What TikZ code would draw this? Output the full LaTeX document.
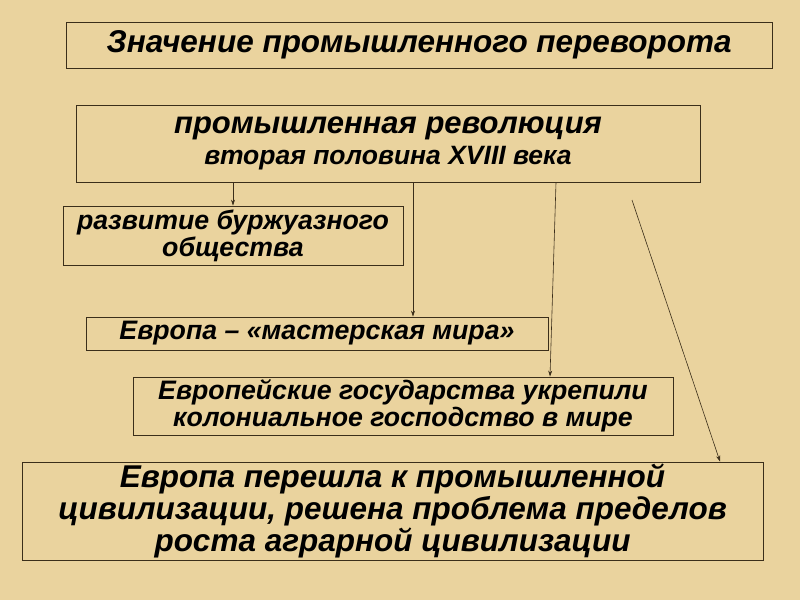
\documentclass[tikz,border=0pt]{standalone}
\usepackage{fontspec}
\setmainfont{Liberation Sans}
\usetikzlibrary{arrows.meta}
\definecolor{parchment}{HTML}{EAD39E}
\definecolor{boxline}{HTML}{3B2E1A}
\tikzset{plainbox/.style={draw=boxline,line width=0.9pt,rectangle,inner sep=0,align=center,font=\bfseries\itshape},
    thinarrow/.style={draw=boxline,line width=0.6pt,-{Stealth[length=6pt,width=4pt]}},
    bigtext/.style={font=\bfseries\itshape\fontsize{31.5}{32}\selectfont},
    midtext/.style={font=\bfseries\itshape\fontsize{26.7}{27}\selectfont}
}
\begin{document}
\begin{tikzpicture}[x=1pt,y=-1pt]

\fill [parchment] (0,0) rectangle (800,600);
\useasboundingbox (0,0) rectangle (800,600);

%% boxes
\node (title) at (419,45) [plainbox,bigtext,minimum width=706pt,minimum height=46pt] {Значение промышленного переворота};

\node (revol) at (388,143.5) [plainbox,minimum width=624pt,minimum height=77pt]
    {{\fontsize{31}{32}\selectfont промышленная революция}\\[5pt]
     {\fontsize{26.5}{30}\selectfont вторая половина XVIII века}};

\node (bourg) at (233,235.5) [plainbox,midtext,minimum width=340pt,minimum height=59pt] {развитие буржуазного\\общества};

\node (workshop) at (317,333.5) [plainbox,midtext,minimum width=462pt,minimum height=33pt] {Европа -- «мастерская мира»};

\node (colony) at (403,406) [plainbox,midtext,minimum width=540pt,minimum height=58pt] {Европейские государства укрепили\\колониальное господство в мире};

\node (civil) at (392.5,511) [plainbox,bigtext,minimum width=741pt,minimum height=98pt] {Европа перешла к промышленной\\цивилизации, решена проблема пределов\\роста аграрной цивилизации};

%% arrows
\coordinate (civstart) at (632,200);

\draw [thinarrow] (revol.south -| bourg.north) -- (bourg.north);
\draw [thinarrow] ([xshift=25pt]revol.south) -- ([xshift=96pt]workshop.north);
\draw [thinarrow] ([xshift=168pt]revol.south) -- ([xshift=147pt]colony.north);
\draw [thinarrow] (civstart) -- ([xshift=327.5pt]civil.north);

\end{tikzpicture}
\end{document}
